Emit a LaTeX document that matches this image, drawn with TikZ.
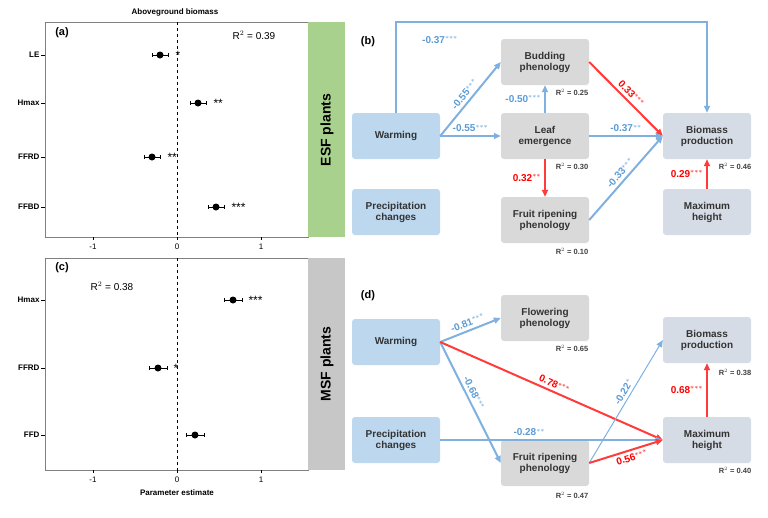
\documentclass[tikz,border=0pt]{standalone}
\usepackage{fontspec}
\setmainfont{Liberation Sans}
\usetikzlibrary{arrows.meta}
\definecolor{boxb}{HTML}{BDD7EE}
\definecolor{boxg}{HTML}{D9D9D9}
\definecolor{boxs}{HTML}{D6DCE5}
\definecolor{arb}{HTML}{7FB0E0}
\definecolor{txb}{HTML}{5B9BD5}
\definecolor{arr}{HTML}{FF3B3B}
\definecolor{esf}{HTML}{A9D18E}
\begin{document}
\begin{tikzpicture}[x=1pt,y=-1pt,
  bx/.style={draw=none,rounded corners=3pt,minimum width=88pt,minimum height=46pt,align=center,font=\bfseries\fontsize{10}{11}\selectfont,text=black!80},
  bl/.style={bx,fill=boxb},
  gr/.style={bx,fill=boxg},
  bg/.style={bx,fill=boxs},
  ab/.style={-{Triangle[length=7pt,width=6pt]},line width=2pt,draw=arb},
  abt/.style={ab,line width=1pt},
  ar/.style={-{Triangle[length=7pt,width=6pt]},line width=2pt,draw=arr},
  lb/.style={font=\bfseries\fontsize{10}{11}\selectfont,text=txb,inner sep=1pt},
  lr/.style={font=\bfseries\fontsize{10}{11}\selectfont,text=red,inner sep=1pt},
  rr/.style={font=\bfseries\fontsize{7.5}{8}\selectfont,text=black!75},
  yl/.style={font=\bfseries\fontsize{8}{9}\selectfont,anchor=east},
  st/.style={font=\fontsize{12}{12}\selectfont,anchor=west},
  pan/.style={font=\bfseries\fontsize{11}{12}\selectfont}]
\useasboundingbox (0,0) rectangle (768,517);
% panel a
\node[font=\bfseries\fontsize{8}{9}\selectfont] at (175,12) {Aboveground biomass};
\draw[black!50] (45,22) rectangle (308,237);
\fill[esf] (308,22) rectangle (345,237);
\node[rotate=90,font=\bfseries\fontsize{14}{14}\selectfont] at (327,130) {ESF plants};
\draw[dashed] (177,22) -- (177,237);
\foreach \x/\l in {93/-1,177/0,261/1}{\draw (\x,237)--(\x,240); \node[font=\fontsize{8}{9}\selectfont] at (\x,247) {\l};}
\node[pan] at (62,33) {(a)};
\node[font=\fontsize{10}{11}\selectfont] at (254,35) {R$^2$ = 0.39};
\foreach \y/\l/\p/\s in {55/LE/160/*,103/Hmax/198/**,157/FFRD/152/**,207/FFBD/216/***}{
 \node[yl] at (43,\y) {\l}; \draw (41,\y)--(45,\y);
 \draw[line width=1pt] (\p-8,\y)--(\p+8,\y); \draw (\p-8,\y-2)--(\p-8,\y+2) (\p+8,\y-2)--(\p+8,\y+2);
 \fill (\p,\y) circle (3.5pt); \node[st] at (\p+12,\y) {\s};}
% panel c
\draw[black!50] (45,258) rectangle (308,470);
\fill[black!22] (308,258) rectangle (345,470);
\node[rotate=90,font=\bfseries\fontsize{14}{14}\selectfont] at (327,364) {MSF plants};
\draw[dashed] (177,258) -- (177,470);
\foreach \x/\l in {93/-1,177/0,261/1}{\draw (\x,470)--(\x,473); \node[font=\fontsize{8}{9}\selectfont] at (\x,480) {\l};}
\node[font=\bfseries\fontsize{8}{9}\selectfont] at (177,493) {Parameter estimate};
\node[pan] at (62,268) {(c)};
\node[font=\fontsize{10}{11}\selectfont] at (112,286) {R$^2$ = 0.38};
\foreach \y/\l/\p/\s in {300/Hmax/233/***,368/FFRD/158/*,435/FFD/195/{}}{
 \node[yl] at (43,\y) {\l}; \draw (41,\y)--(45,\y);
 \draw[line width=1pt] (\p-9,\y)--(\p+9,\y); \draw (\p-9,\y-2)--(\p-9,\y+2) (\p+9,\y-2)--(\p+9,\y+2);
 \fill (\p,\y) circle (3.5pt); \node[st] at (\p+12,\y) {\s};}
% panel b
\node[pan] at (368,42) {(b)};
\node[bl] (w) at (396,136) {Warming};
\node[bl] (p) at (396,212) {Precipitation\\changes};
\node[gr] (bud) at (545,62) {Budding\\phenology};
\node[gr] (leaf) at (545,136) {Leaf\\emergence};
\node[gr] (fr) at (545,220) {Fruit ripening\\phenology};
\node[bg] (bio) at (707,136) {Biomass\\production};
\node[bg] (mh) at (707,212) {Maximum\\height};
\coordinate (c1) at (396,22); \coordinate (c2) at (707,22);
\draw[ab] (w.north) -- (c1) -- (c2) -- (bio.north);
\node[lb] at (440,40) {-0.37$^{***}$};
\draw[ab] (w.east) -- node[lb,sloped,above=2pt] {-0.55$^{***}$} (bud.west);
\draw[ab] (w.east) -- node[lb,above=2pt] {-0.55$^{***}$} (leaf.west);
\draw[ab] (leaf.north) -- node[lb,left=2pt] {-0.50$^{***}$} (bud.south);
\draw[ar] (bud.east) -- node[lr,sloped,above=2pt] {0.33$^{***}$} (bio.west);
\draw[ab] (leaf.east) -- node[lb,above=2pt] {-0.37$^{**}$} (bio.west);
\draw[ar] (leaf.south) -- node[lr,left=2pt] {0.32$^{**}$} (fr.north);
\draw[ab] (fr.east) -- node[lb,sloped,above=2pt] {-0.33$^{***}$} (bio.west);
\draw[ar] (mh.north) -- node[lr,left=2pt] {0.29$^{***}$} (bio.south);
\node[rr] at (572,92) {R$^2$ = 0.25};
\node[rr] at (572,166) {R$^2$ = 0.30};
\node[rr] at (572,251) {R$^2$ = 0.10};
\node[rr] at (735,166) {R$^2$ = 0.46};
% panel d
\node[pan] at (368,296) {(d)};
\node[bl] (w2) at (396,342) {Warming};
\node[bl] (p2) at (396,440) {Precipitation\\changes};
\node[gr] (fl) at (545,318) {Flowering\\phenology};
\node[gr] (fr2) at (545,463) {Fruit ripening\\phenology};
\node[bg] (bio2) at (707,340) {Biomass\\production};
\node[bg] (mh2) at (707,440) {Maximum\\height};
\draw[ab] (w2.east) -- node[lb,sloped,above=2pt] {-0.81$^{***}$} (fl.west);
\draw[ab] (w2.east) -- node[lb,sloped,above=2pt,pos=0.45] {-0.68$^{***}$} (fr2.west);
\draw[ar] (w2.east) -- node[lr,sloped,above=2pt] {0.78$^{***}$} (mh2.west);
\draw[ab] (p2.east) -- node[lb,above=2pt,pos=0.4] {-0.28$^{**}$} (mh2.west);
\draw[abt] (fr2.east) -- node[lb,sloped,above=2pt,pos=0.55] {-0.22$^{*}$} (bio2.west);
\draw[ar] (fr2.east) -- node[lr,sloped,below=2pt,pos=0.55] {0.56$^{***}$} (mh2.west);
\draw[ar] (mh2.north) -- node[lr,left=2pt] {0.68$^{***}$} (bio2.south);
\node[rr] at (572,348) {R$^2$ = 0.65};
\node[rr] at (735,372) {R$^2$ = 0.38};
\node[rr] at (735,470) {R$^2$ = 0.40};
\node[rr] at (572,495) {R$^2$ = 0.47};
\end{tikzpicture}
\end{document}
